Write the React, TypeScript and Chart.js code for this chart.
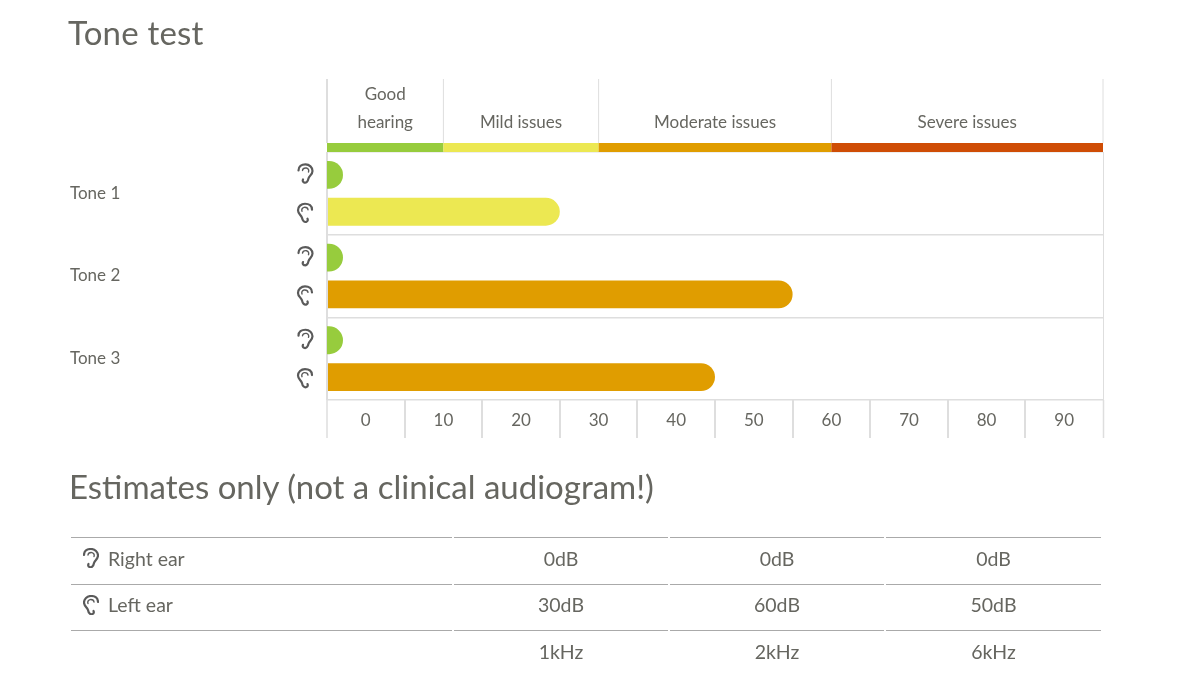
import React, { useEffect, useRef } from "react";
import { Chart, registerables } from "chart.js";

Chart.register(...registerables);

const tones = ["Tone 1", "Tone 2", "Tone 3"];
const rightEar = [0, 0, 0];
const leftEar = [30, 60, 50];
const bandEdges = [0, 15, 35, 65, 100];
const bandLabels = [["Good", "hearing"], ["Mild issues"], ["Moderate issues"], ["Severe issues"]];
const bandColors = ["#97cc3d", "#ece852", "#e09d00", "#cf4d05"];
const rightColors = ["#97cc3d", "#97cc3d", "#97cc3d"];
const leftColors = ["#ece852", "#e09d00", "#e09d00"];
const tableRows = [
  { ear: "right", label: "Right ear", values: ["0dB", "0dB", "0dB"] },
  { ear: "left", label: "Left ear", values: ["30dB", "60dB", "50dB"] },
];
const frequencies = ["1kHz", "2kHz", "6kHz"];

const FONT = "Lato, 'Open Sans', sans-serif";
const TEXT = "#666660";
const LINE = "#dedede";
const EAR_OUTER = "M1 7C1 2.8 4 1 8 1C12 1 15 4 15 7.5C15 11 12 12 11 15C10.5 18 8.5 20 6.5 19C5 18.4 5 17 5.5 16";
const EAR_INNER = "M5 7C5.2 5.2 7 4.4 9 4.6C11 5 11.6 7 11 8.6";

function Ear({ side }: { side: string }) {
  return (
    <svg width="16" height="20" viewBox="0 0 16 20" style={{ display: "block", transform: side === "left" ? "scaleX(-1)" : undefined }}>
      <path d={EAR_OUTER} fill="none" stroke="#5a5a5a" strokeWidth="2.2" strokeLinecap="round" />
      <path d={EAR_INNER} fill="none" stroke="#5a5a5a" strokeWidth="1.4" strokeLinecap="round" />
    </svg>
  );
}

const headerPlugin = {
  id: "header",
  beforeDatasetsDraw(chart: any) {
    // A bar shorter than its height keeps a full round tip: its hidden base runs left of the clipped plot edge.
    chart.data.datasets.forEach((_: any, d: number) => {
      chart.getDatasetMeta(d).data.forEach((bar: any) => {
        if (Math.abs(bar.x - bar.base) < bar.height) bar.base = bar.x - bar.height;
      });
    });
  },
  afterDatasetsDraw(chart: any) {
    const { ctx, scales, chartArea } = chart;
    const x = scales.x;
    ctx.save();
    bandEdges.forEach((edge, i) => {
      const px = x.getPixelForValue(edge);
      ctx.strokeStyle = LINE;
      ctx.lineWidth = i === 0 ? 2 : 1;
      ctx.beginPath();
      ctx.moveTo(px, 79);
      ctx.lineTo(px, chartArea.top - 9);
      ctx.stroke();
    });
    bandLabels.forEach((lines, i) => {
      const a = x.getPixelForValue(bandEdges[i]);
      const b = x.getPixelForValue(bandEdges[i + 1]);
      ctx.fillStyle = bandColors[i];
      ctx.fillRect(a, chartArea.top - 9, b - a, 9);
      ctx.fillStyle = TEXT;
      ctx.font = `17px ${FONT}`;
      ctx.textAlign = "center";
      ctx.textBaseline = "middle";
      lines.forEach((line, j) => {
        ctx.fillText(line, (a + b) / 2, chartArea.top - 29 - (lines.length - 1 - j) * 28);
      });
    });
    // ear icons beside each bar
    const outer = new Path2D(EAR_OUTER);
    const inner = new Path2D(EAR_INNER);
    chart.data.datasets.forEach((_: any, d: number) => {
      chart.getDatasetMeta(d).data.forEach((bar: any) => {
        ctx.save();
        ctx.translate(d === 0 ? 297.5 : 313, bar.y - (d === 0 ? 11.5 : 9));
        ctx.scale(d === 0 ? 1 : -1, 1);
        ctx.strokeStyle = "#5a5a5a";
        ctx.lineCap = "round";
        ctx.lineWidth = 2.2;
        ctx.stroke(outer);
        ctx.lineWidth = 1.4;
        ctx.stroke(inner);
        ctx.restore();
      });
    });
    ctx.restore();
  },
};

export default function App() {
  const ref = useRef<HTMLCanvasElement>(null);
  useEffect(() => {
    const chart = new Chart(ref.current!, {
      type: "bar",
      plugins: [headerPlugin],
      data: {
        labels: tones,
        datasets: [
          { label: "Right ear", data: rightEar, backgroundColor: rightColors, clip: 0 },
          { label: "Left ear", data: leftEar, backgroundColor: leftColors, clip: 0 },
        ],
      },
      options: {
        indexAxis: "y",
        responsive: false,
        animation: false,
        layout: { padding: { top: 152, left: 70, right: 97, bottom: 237 } },
        plugins: { legend: { display: false }, tooltip: { enabled: false } },
        datasets: {
          bar: {
            categoryPercentage: 0.89,
            barPercentage: 0.757,
            minBarLength: 16,
            borderRadius: { topRight: 14, bottomRight: 14, topLeft: 0, bottomLeft: 0 },
            borderSkipped: false,
          },
        },
        scales: {
          x: {
            type: "linear",
            min: 0,
            max: 100,
            afterFit: (s: any) => { s.height = 38; },
            border: { display: false },
            grid: {
              tickLength: 38,
              tickWidth: (c: any) => (c.tick && (c.tick.value === 0 || c.tick.value === 100) ? 1.5 : 2),
              tickColor: LINE,
              lineWidth: (c: any) => (c.tick && c.tick.value === 100 ? 1 : 2),
              color: (c: any) => (c.tick && (c.tick.value === 0 || c.tick.value === 100) ? LINE : "rgba(0,0,0,0)"),
            },
            ticks: {
              stepSize: 10,
              maxRotation: 0,
              autoSkip: false,
              labelOffset: 38.8,
              padding: -28,
              color: TEXT,
              font: { family: FONT, size: 17 },
              callback: (v: any) => (v === 100 ? "" : String(v)),
            },
          },
          y: {
            type: "category",
            afterFit: (s: any) => { s.width = 257; },
            border: { display: false },
            grid: { color: LINE, lineWidth: 1.5, drawTicks: false },
            ticks: { crossAlign: "far", color: TEXT, padding: 0, z: 1, font: { family: FONT, size: 17 } },
          },
        },
      } as any,
    });
    return () => chart.destroy();
  }, []);

  const cell: React.CSSProperties = { textAlign: "center", padding: "0 0 5px 0", borderTop: "1px solid #aaa", height: 46.5, boxSizing: "border-box" };
  return (
    <div style={{ position: "absolute", left: 0, top: 0, width: 1200, height: 675, overflow: "hidden", background: "#fff", fontFamily: FONT, color: TEXT }}>
      <canvas ref={ref} width={1200} height={675} style={{ position: "absolute", left: 0, top: 0, display: "block" }} />
      <div style={{ position: "absolute", left: 68, top: 10, fontSize: 33, lineHeight: "44px", letterSpacing: 0.2 }}>Tone test</div>
      <div style={{ position: "absolute", left: 69, top: 464, fontSize: 33, lineHeight: "44px" }}>Estimates only (not a clinical audiogram!)</div>
      <table style={{ position: "absolute", left: 69, top: 537, width: 1034, borderCollapse: "separate", borderSpacing: "2px 0", tableLayout: "fixed", fontSize: 19.5, color: TEXT }}>
        <colgroup>
          <col style={{ width: 381 }} />
          <col style={{ width: 214 }} />
          <col style={{ width: 214 }} />
          <col style={{ width: 215 }} />
        </colgroup>
        <tbody>
          {tableRows.map((r) => (
            <tr key={r.ear}>
              <td style={{ ...cell, textAlign: "left" }}>
                <div style={{ display: "flex", alignItems: "center", gap: 9, paddingLeft: 12 }}>
                  <Ear side={r.ear} />
                  <span>{r.label}</span>
                </div>
              </td>
              {r.values.map((v, i) => <td key={i} style={cell}>{v}</td>)}
            </tr>
          ))}
          <tr>
            <td style={cell}></td>
            {frequencies.map((f) => <td key={f} style={cell}>{f}</td>)}
          </tr>
        </tbody>
      </table>
    </div>
  );
}
